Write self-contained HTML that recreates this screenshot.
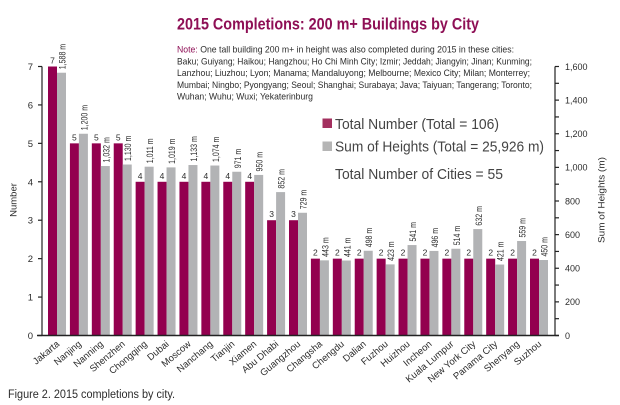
<!DOCTYPE html>
<html>
<head>
<meta charset="utf-8">
<title>2015 Completions: 200 m+ Buildings by City</title>
<style>
html,body{margin:0;padding:0;background:#fff;}
svg{display:block;font-family:"Liberation Sans",sans-serif;}
text{fill:#2c2c2c;}
</style>
</head>
<body>
<svg id="chart" width="620" height="405" viewBox="0 0 620 405" xmlns="http://www.w3.org/2000/svg">
  <text x="177" y="29.5" font-size="16.5" font-weight="bold" style="fill:#8e0f55" textLength="302" lengthAdjust="spacingAndGlyphs">2015 Completions: 200 m+ Buildings by City</text>
  <g font-size="9.5">
    <text x="177" y="52.5" textLength="337" lengthAdjust="spacingAndGlyphs"><tspan style="fill:#8e0f55">Note:</tspan> One tall building 200 m+ in height was also completed during 2015 in these cities:</text>
    <text x="177" y="64.5" textLength="355" lengthAdjust="spacingAndGlyphs">Baku; Guiyang; Haikou; Hangzhou; Ho Chi Minh City; Izmir; Jeddah; Jiangyin; Jinan; Kunming;</text>
    <text x="177" y="76" textLength="353" lengthAdjust="spacingAndGlyphs">Lanzhou; Liuzhou; Lyon; Manama; Mandaluyong; Melbourne; Mexico City; Milan; Monterrey;</text>
    <text x="177" y="88" textLength="355" lengthAdjust="spacingAndGlyphs">Mumbai; Ningbo; Pyongyang; Seoul; Shanghai; Surabaya; Java; Taiyuan; Tangerang; Toronto;</text>
    <text x="177" y="99.5" textLength="136" lengthAdjust="spacingAndGlyphs">Wuhan; Wuhu; Wuxi; Yekaterinburg</text>
  </g>
  <g id="bars"></g>
  <g id="axes"></g>
  <g>
    <rect x="322.5" y="118.5" width="9.5" height="9.5" fill="#a3305f"/>
    <text x="335" y="129" font-size="15" style="fill:#444" textLength="164" lengthAdjust="spacingAndGlyphs">Total Number (Total = 106)</text>
    <rect x="322.5" y="141.5" width="9.5" height="9.5" fill="#b5b5b5"/>
    <text x="335" y="151.5" font-size="15" style="fill:#444" textLength="209" lengthAdjust="spacingAndGlyphs">Sum of Heights (Total = 25,926 m)</text>
    <text x="335" y="179" font-size="15" style="fill:#444" textLength="168" lengthAdjust="spacingAndGlyphs">Total Number of Cities = 55</text>
  </g>
  <text transform="translate(16.5,200) rotate(-90)" text-anchor="middle" font-size="9.5">Number</text>
  <text transform="translate(604.5,200) rotate(-90)" text-anchor="middle" font-size="9.5" textLength="86" lengthAdjust="spacingAndGlyphs">Sum of Heights (m)</text>
  <text x="8" y="398" font-size="11.5" textLength="167" lengthAdjust="spacingAndGlyphs">Figure 2. 2015 completions by city.</text>
</svg>
<script>
const cities = ["Jakarta","Nanjing","Nanning","Shenzhen","Chongqing","Dubai","Moscow","Nanchang","Tianjin","Xiamen","Abu Dhabi","Guangzhou","Changsha","Chengdu","Dalian","Fuzhou","Huizhou","Incheon","Kuala Lumpur","New York City","Panama City","Shenyang","Suzhou"];
const buildingCounts = [7,5,5,5,4,4,4,4,4,4,3,3,2,2,2,2,2,2,2,2,2,2,2];
const plottedHeights = [1563,1200,1008,1017,1004,1000,1014,1011,974,955,853,730,447,446,504,423,538,503,516,633,422,562,449];
const printedHeights = ["1,588 m","1,200 m","1,032 m","1,130 m","1,011 m","1,019 m","1,133 m","1,074 m","971 m","950 m","852 m","729 m","443 m","441 m","498 m","423 m","541 m","496 m","514 m","632 m","421 m","559 m","450 m"];
const leftTicks = [0,1,2,3,4,5,6,7];
const rightTicks = [0,100,200,300,400,500,600,700,800,900,1000,1100,1200,1300,1400,1500,1600];

const NS = "http://www.w3.org/2000/svg";
const plotBottom = 335.5, plotTop = 66.5, leftX = 42, rightX = 555;
const yLeft = v => plotBottom - v / 7 * (plotBottom - plotTop);
const yRight = v => plotBottom - v / 1600 * (plotBottom - plotTop);
const groupX = i => 48 + i * (482 / (cities.length - 1));
const barW = 9;
function make(tag, attrs, parent) {
  const el = document.createElementNS(NS, tag);
  for (const k in attrs) el.setAttribute(k, attrs[k]);
  parent.appendChild(el);
  return el;
}
const barsG = document.getElementById("bars");
const axesG = document.getElementById("axes");

cities.forEach((city, i) => {
  const x = groupX(i);
  const yc = yLeft(buildingCounts[i]);
  const yh = yRight(plottedHeights[i]);
  const b1 = make("rect", {x: x, y: yc, width: barW, height: plotBottom - yc, fill: "#93004f"}, barsG);
  
  
  const b2 = make("rect", {x: x + barW, y: yh, width: barW, height: plotBottom - yh, fill: "#b2b3b5"}, barsG);
  
  
  const t1 = make("text", {x: x + 4.5, y: yc - 3, "text-anchor": "middle", "font-size": 8.5}, barsG);
  t1.textContent = buildingCounts[i];
  
  
  const t2 = make("text", {transform: `translate(${x + barW + 8.5},${yh - 3.5}) rotate(-90) scale(.74,1)`, "font-size": 9.5}, barsG);
  t2.textContent = printedHeights[i];
  
  
  const c = make("text", {transform: `translate(${x + 12},${345}) rotate(-40)`, "text-anchor": "end", "font-size": 9.5}, axesG);
  c.textContent = city;
  
  
});

const lineStyle = {stroke: "#222", "stroke-width": 1.2};
const leftAxis = make("line", {x1: leftX, x2: leftX, y1: plotTop, y2: plotBottom, ...lineStyle}, axesG);


const rightAxis = make("line", {x1: rightX, x2: rightX, y1: plotTop, y2: plotBottom, ...lineStyle}, axesG);


const xAxis = make("line", {x1: 37, x2: 559, y1: plotBottom, y2: plotBottom, stroke: "#222", "stroke-width": 1.4}, axesG);



leftTicks.forEach(v => {
  const y = yLeft(v);
  const tick = make("line", {x1: 38, x2: leftX, y1: y, y2: y, ...lineStyle}, axesG);
  
  
  const label = make("text", {x: 33, y: y + 3.5, "text-anchor": "end", "font-size": 9.5}, axesG);
  label.textContent = v;
  
  
});
rightTicks.forEach(v => {
  const y = yRight(v);
  const tick = make("line", {x1: rightX, x2: 559, y1: y, y2: y, ...lineStyle}, axesG);
  
  
  if (v % 200 === 0) {
    const label = make("text", {x: 565, y: y + 3.3, "font-size": 9}, axesG);
    label.textContent = v.toLocaleString("en-US");
    
    
  }
});
</script>
</body>
</html>
